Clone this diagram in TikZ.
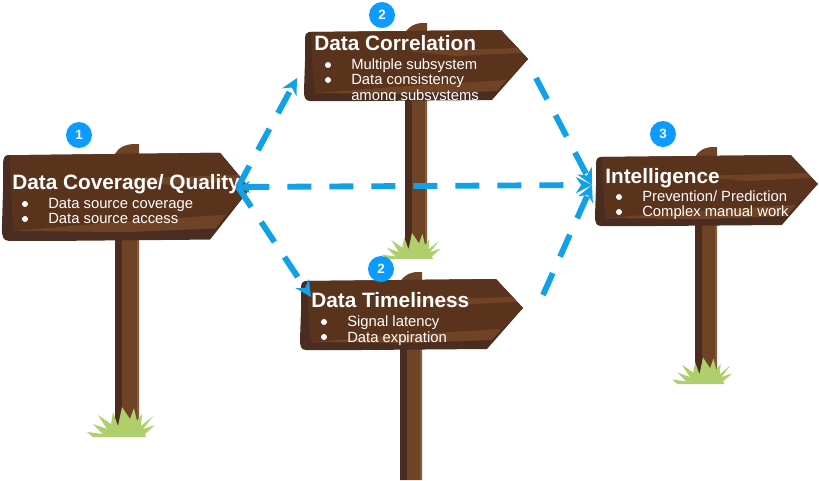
\documentclass[tikz,border=0pt]{standalone}
\usepackage{fontspec}
\setmainfont{Liberation Sans}
\usetikzlibrary{arrows.meta}
\definecolor{boardbrown}{HTML}{5A331C}
\definecolor{boardshade}{HTML}{4A2C21}
\definecolor{boardlight}{HTML}{6E4326}
\definecolor{postbrown}{HTML}{6F4426}
\definecolor{postlight}{HTML}{855A3C}
\definecolor{grassgreen}{HTML}{AFCF6C}
\definecolor{flowblue}{HTML}{12A0E6}
\definecolor{badgeblue}{HTML}{0C9CFF}
\tikzset{
	flow/.style={draw=flowblue,line width=4.4pt,dash pattern=on 18pt off 13.5pt,-{Stealth[length=12pt,width=12pt]}},
	flowboth/.style={flow,{Stealth[length=9pt,width=9pt]}-{Stealth[length=12pt,width=12pt]}},
	badge/.style={circle,fill=badgeblue,text=white,minimum size=19.5pt,inner sep=0pt,font=\bfseries\fontsize{10}{10}\selectfont},
	signtitle/.style={anchor=base west,text=white,inner sep=0pt,font=\bfseries\fontsize{15.6}{15.6}\selectfont},
	signitem/.style={anchor=base west,text=white,inner sep=0pt,font=\fontsize{11.1}{11.1}\selectfont},
	signdot/.style={circle,fill=white,minimum size=4.5pt,inner sep=0pt}
}
% board, with its top left corner at #1,#2 and scaled by #3,#4
\newcommand{\signboard}[4]{
	\begin{scope}[shift={(#1,#2)},xscale=#3,yscale=#4]
		\fill[boardshade] (4,1) -- (195,-1) -- (222,28) -- (186,69) -- (60,70) -- (5,70) .. controls (0,70) and (-1,66) .. (-1,60) -- (0,30) -- (0,8) .. controls (0,3) and (2,1) .. (4,1) -- cycle;
		\fill[boardbrown] (6,1) -- (195,-1) -- (222,28) -- (191,60) -- (110,63) -- (10,62) .. controls (8,50) and (7,30) .. (6,1) -- cycle;
		\fill[boardlight] (10,62) -- (100,55) -- (200,49) -- (191,60) -- (110,63) -- cycle;
		\fill[boardlight] (100,20) -- (212,17) -- (216,22) -- (150,25) -- cycle;
	\end{scope}
}
% post from #2 down to #3, left edge at #1, width #4
\newcommand{\signpost}[4]{
	\fill[postbrown] (#1,#3) -- (#1,#2+10) .. controls (#1+3,#2+4) and (#1+10,#2) .. (#1+#4-4,#2) -- (#1+#4,#2) -- (#1+#4,#3) -- cycle;
	\fill[boardshade] (#1,#2+10) rectangle (#1+7,#3);
	\fill[postlight] (#1+#4-2,#2+10) rectangle (#1+#4,#3);
}
% grass with its bottom centre at #1,#2 and scaled by #3
\newcommand{\signgrass}[3]{
	\begin{scope}[shift={(#1,#2)},scale=#3]
		\fill[grassgreen] (-29,0) -- (-35,-5) -- (-19,-3) -- (-29,-13) -- (-15,-8) -- (-24,-22) -- (-11,-13) -- (-9,-25) -- (-4,-11) -- (0,-30) -- (8,-18) -- (12,-29) -- (15,-16) -- (20,-23) -- (19,-11) -- (31,-21) -- (21,-8) -- (33,-12) -- (23,-3) -- (24,0) -- cycle;
	\end{scope}
}
\begin{document}
\begin{tikzpicture}[x=0.75pt,y=-0.75pt]
	\useasboundingbox (0,0) rectangle (819,480);
	% posts and grass
	\signpost{115}{144}{428}{24}
	\signgrass{122}{437}{1}
	\signpost{405}{23}{252}{22}
	\signgrass{412}{259}{.87}
	\signpost{400}{272}{480}{22}
	\signpost{695}{147}{376}{22}
	\signgrass{703}{384}{.88}
	% boards
	\signboard{3}{154}{1.113}{1.24}
	\signboard{305}{31}{1.005}{1.0}
	\signboard{301}{280}{1.0}{1.0}
	\signboard{596}{156}{0.999}{1.0}
	% badges
	\node[badge] (badgeA) at (79,135) {1};
	\node[badge] (badgeB) at (382,15) {2};
	\node[badge] (badgeC) at (381,269) {2};
	\node[badge] (badgeD) at (663,134) {3};
	% coverage
	\node[signtitle] (coverage) at (12,189) {Data Coverage/ Quality};
	\node[signitem] (coverageA) at (48,208) {Data source coverage};
	\node[signitem] (coverageB) at (48,223) {Data source access};
	\node[signdot] at (25,204) {};
	\node[signdot] at (25,219) {};
	% correlation
	\node[signtitle] (correlation) at (314,50) {Data Correlation};
	\node[signitem] (correlationA) at (351,69) {Multiple subsystem};
	\node[signitem] (correlationB) at (351,84) {Data consistency};
	\node[signitem] (correlationC) at (351,100) {among subsystems};
	\node[signdot] at (328,65) {};
	\node[signdot] at (328,80) {};
	% timeliness
	\node[signtitle] (timeliness) at (311,307) {Data Timeliness};
	\node[signitem] (timelinessA) at (347,326) {Signal latency};
	\node[signitem] (timelinessB) at (347,342) {Data expiration};
	\node[signdot] at (324,322) {};
	\node[signdot] at (324,337) {};
	% intelligence
	\node[signtitle] (intelligence) at (605,183) {Intelligence};
	\node[signitem] (intelligenceA) at (642,201) {Prevention/ Prediction};
	\node[signitem] (intelligenceB) at (642,216) {Complex manual work};
	\node[signdot] at (619,197) {};
	\node[signdot] at (619,212) {};
	% flows
	\coordinate (startC) at (238,187);
	\coordinate (endC) at (592,185);
	\coordinate (tipB) at (297,78);
	\coordinate (tipT) at (311,297);
	\coordinate (startB) at (536,78);
	\coordinate (startT) at (543,295);
	\draw[flow] (startC) -- (tipB);
	\draw[flow] (startC) -- (tipT);
	\draw[flowboth] (startC) -- (endC);
	\draw[flow] (startB) -- (endC);
	\draw[flow] (startT) -- (endC);
\end{tikzpicture}
\end{document}
